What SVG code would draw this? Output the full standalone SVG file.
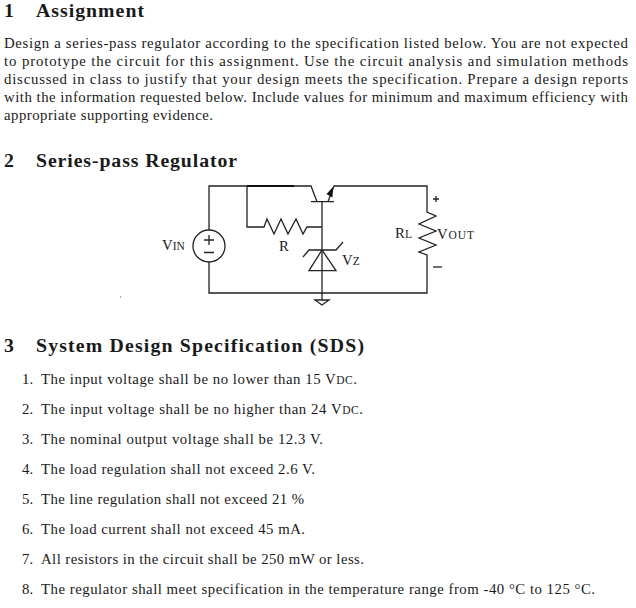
<svg xmlns="http://www.w3.org/2000/svg" width="636" height="608" viewBox="0 0 636 608">
<style>
text{font-family:"Liberation Serif","Times New Roman",serif;fill:#1a1a1a}
.h{font-size:19.8px;font-weight:bold}
.b{font-size:14.8px}
.l{font-size:14.8px}
.s{font-size:11.5px}
.w{fill:none;stroke:#222;stroke-width:1.3;stroke-linejoin:miter}
</style>
<rect width="636" height="608" fill="#fff"/>
<g id="section-1">
<text class="h" x="4" y="17">1</text>
<text class="h" x="36" y="17" textLength="108">Assignment</text>
<text class="b" x="4" y="48" textLength="624">Design a series-pass regulator according to the specification listed below.  You are not expected</text>
<text class="b" x="4" y="66" textLength="624">to prototype the circuit for this assignment.  Use the circuit analysis and simulation methods</text>
<text class="b" x="4" y="84" textLength="624">discussed in class to justify that your design meets the specification.  Prepare a design reports</text>
<text class="b" x="4" y="102" textLength="624">with the information requested below.  Include values for minimum and maximum efficiency with</text>
<text class="b" x="4" y="120" textLength="209">appropriate supporting evidence.</text>
</g>
<g id="section-2">
<text class="h" x="4" y="167">2</text>
<text class="h" x="36" y="167" textLength="201">Series-pass Regulator</text>
</g>
<g id="connectors">
<path class="w" d="M209 230V186H311L317 201.7M311 201.7H334M328 201.7L334 186H427V212L436 216L419 224L436 231L419 238L436 245L419 252L427 255V293H209V262"/>
<path d="M247 186H294" fill="none" stroke="#111" stroke-width="1.8"/>
<path class="w" d="M247 186V227H264L267 219L274 234L281 219L288 234L296 219L303 234L307 227H322"/>
<path class="w" d="M322 201.7V300"/>
</g>
<g id="transistor-arrow"><path d="M333 187L326.500 194L332.500 197.500Z" fill="#111"/></g>
<g id="source-vin">
<circle class="w" cx="209" cy="246" r="16"/>
<path class="w" d="M204 240H214M209 235V245M204 252.500H214"/>
<text class="b" x="162" y="250">V<tspan class="s">IN</tspan></text>
</g>
<g id="resistor-r"><text class="b" x="279" y="251">R</text></g>
<g id="zener">
<path class="w" d="M322 250L309 270.700H336ZM303 257L309 250H336L343 242"/>
<text class="b" x="342" y="265">V<tspan class="s">Z</tspan></text>
</g>
<g id="ground"><path class="w" d="M315 300H329L322 305Z"/></g>
<g id="load-rl">
<text class="b" x="395" y="238">R<tspan class="s">L</tspan></text>
<text class="b" x="437" y="239" textLength="37">V<tspan class="s">OUT</tspan></text>
<path class="w" d="M433 199H439M436 196V202"/>
<path class="w" d="M433 267H442"/>
</g>
<path d="M120 297h1" stroke="#c33" stroke-width="1"/>
<g id="section-3">
<text class="h" x="4" y="352">3</text>
<text class="h" x="36" y="352" textLength="328">System Design Specification (SDS)</text>
<text class="l" x="22" y="384">1.</text>
<text class="l" x="41" y="384" textLength="316">The input voltage shall be no lower than 15 V<tspan class="s">DC</tspan>.</text>
<text class="l" x="22" y="414">2.</text>
<text class="l" x="41" y="414" textLength="322">The input voltage shall be no higher than 24 V<tspan class="s">DC</tspan>.</text>
<text class="l" x="22" y="444">3.</text>
<text class="l" x="41" y="444" textLength="282">The nominal output voltage shall be 12.3 V.</text>
<text class="l" x="22" y="474">4.</text>
<text class="l" x="41" y="474" textLength="274">The load regulation shall not exceed 2.6 V.</text>
<text class="l" x="22" y="504">5.</text>
<text class="l" x="41" y="504" textLength="263">The line regulation shall not exceed 21 %</text>
<text class="l" x="22" y="534">6.</text>
<text class="l" x="41" y="534" textLength="264">The load current shall not exceed 45 mA.</text>
<text class="l" x="22" y="564">7.</text>
<text class="l" x="41" y="564" textLength="323">All resistors in the circuit shall be 250 mW or less.</text>
<text class="l" x="22" y="594">8.</text>
<text class="l" x="41" y="594" textLength="554">The regulator shall meet specification in the temperature range from -40 °C to 125 °C.</text>
</g>
</svg>
